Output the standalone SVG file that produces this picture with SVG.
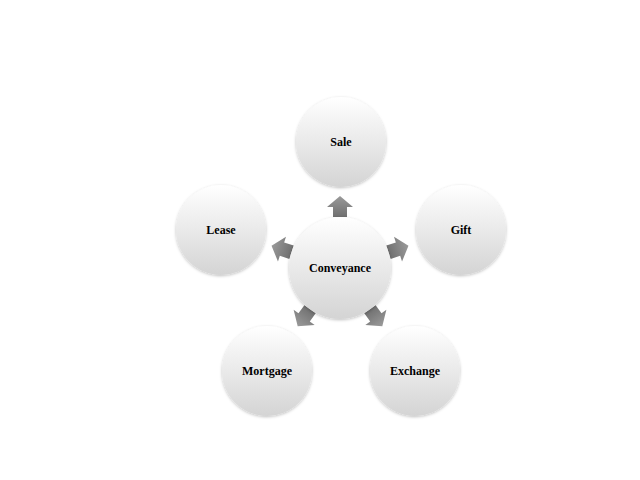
<svg xmlns="http://www.w3.org/2000/svg" width="640" height="480" viewBox="0 0 640 480">
<defs>
<linearGradient id="g" x1="0" y1="0" x2="0" y2="1">
<stop offset="0" stop-color="#ffffff"/><stop offset="1" stop-color="#d4d4d4"/>
</linearGradient>
<linearGradient id="a" x1="0" y1="0" x2="0" y2="1">
<stop offset="0" stop-color="#9a9a9a"/><stop offset="1" stop-color="#707070"/>
</linearGradient>
<filter id="s" x="-20%" y="-20%" width="140%" height="140%"><feDropShadow dx="0" dy="1" stdDeviation="1.5" flood-opacity="0.25"/></filter>
<polygon id="arr" points="-13,0 0,-11 13,0 7,0 7,10 -7,10 -7,0" fill="url(#a)"/>
</defs>
<style>
circle{fill:url(#g);filter:url(#s)}
text{font-family:"Liberation Serif",serif;font-weight:bold;font-size:12px;text-anchor:middle;fill:#000}
</style>
<rect width="640" height="480" fill="#fff"/>
<g id="connectors">
<use href="#arr" transform="translate(340,268) rotate(0) translate(0,-61)"/>
<use href="#arr" transform="translate(340,268) rotate(72) translate(0,-61)"/>
<use href="#arr" transform="translate(340,268) rotate(144) translate(0,-61)"/>
<use href="#arr" transform="translate(340,268) rotate(216) translate(0,-61)"/>
<use href="#arr" transform="translate(340,268) rotate(288) translate(0,-61)"/>
</g>
<g id="sale"><circle cx="341" cy="142" r="45"/><text x="341" y="146">Sale</text></g>
<g id="gift"><circle cx="461" cy="230" r="45"/><text x="461" y="234">Gift</text></g>
<g id="exchange"><circle cx="415" cy="371" r="45"/><text x="415" y="375">Exchange</text></g>
<g id="mortgage"><circle cx="267" cy="371" r="45"/><text x="267" y="375">Mortgage</text></g>
<g id="lease"><circle cx="221" cy="230" r="45"/><text x="221" y="234">Lease</text></g>
<g id="conveyance"><circle cx="340" cy="268" r="51"/><text x="340" y="272">Conveyance</text></g>
</svg>
